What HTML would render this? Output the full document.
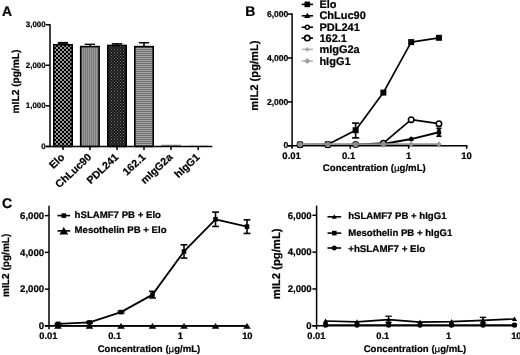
<!DOCTYPE html>
<html><head><meta charset="utf-8"><title>Figure</title>
<style>html,body{margin:0;padding:0;background:#fff;}svg{display:block;font-family:"Liberation Sans", Arial, sans-serif;}text{stroke:#000;stroke-width:0.22px;text-rendering:geometricPrecision;}</style>
</head><body>
<svg width="520" height="355" viewBox="0 0 520 355">
<rect width="520" height="355" fill="#fff"/>
<defs>
<pattern id="pChk" x="54" y="45" width="4" height="4" patternUnits="userSpaceOnUse"><rect width="4" height="4" fill="#000"/><rect x="0.15" y="0.15" width="1.7" height="1.7" fill="#d2d2d2"/><rect x="2.15" y="2.15" width="1.7" height="1.7" fill="#d2d2d2"/></pattern>
<pattern id="pV" x="81" y="0" width="2" height="4" patternUnits="userSpaceOnUse"><rect width="2" height="4" fill="#9a9a9a"/><rect x="0" y="0" width="1" height="4" fill="#7a7a7a"/></pattern>
<pattern id="pDot" x="108" y="46" width="3" height="3" patternUnits="userSpaceOnUse"><rect width="3" height="3" fill="#161616"/><rect x="0" y="0" width="1" height="1" fill="#777"/><rect x="1.5" y="1.5" width="1" height="1" fill="#777"/></pattern>
<pattern id="pH" x="0" y="47" width="4" height="2" patternUnits="userSpaceOnUse"><rect width="4" height="2" fill="#a8a8a8"/><rect x="0" y="0" width="4" height="1" fill="#6c6c6c"/></pattern>
</defs>
<text x="2.00" y="15.80" font-size="13.9" font-weight="bold" text-anchor="start" fill="#000" stroke-width="0">A</text>
<line x1="50.00" y1="23.95" x2="50.00" y2="147.15" stroke="#000" stroke-width="1.5" />
<line x1="45.80" y1="146.40" x2="212.30" y2="146.40" stroke="#000" stroke-width="1.5" />
<line x1="45.80" y1="146.40" x2="50.00" y2="146.40" stroke="#000" stroke-width="1.5" />
<text x="45.60" y="149.00" font-size="7.9" font-weight="bold" text-anchor="end" fill="#000" >0</text>
<line x1="45.80" y1="105.83" x2="50.00" y2="105.83" stroke="#000" stroke-width="1.5" />
<text x="45.60" y="108.43" font-size="7.9" font-weight="bold" text-anchor="end" fill="#000" >1,000</text>
<line x1="45.80" y1="65.27" x2="50.00" y2="65.27" stroke="#000" stroke-width="1.5" />
<text x="45.60" y="67.87" font-size="7.9" font-weight="bold" text-anchor="end" fill="#000" >2,000</text>
<line x1="45.80" y1="24.70" x2="50.00" y2="24.70" stroke="#000" stroke-width="1.5" />
<text x="45.60" y="27.30" font-size="7.9" font-weight="bold" text-anchor="end" fill="#000" >3,000</text>
<line x1="63.00" y1="146.40" x2="63.00" y2="150.00" stroke="#000" stroke-width="1.5" />
<text x="65.20" y="158.00" font-size="10.6" font-weight="bold" text-anchor="end" fill="#000" transform="rotate(-43 65.20 158.00)" >Elo</text>
<line x1="89.90" y1="146.40" x2="89.90" y2="150.00" stroke="#000" stroke-width="1.5" />
<text x="92.10" y="158.00" font-size="10.6" font-weight="bold" text-anchor="end" fill="#000" transform="rotate(-43 92.10 158.00)" >ChLuc90</text>
<line x1="117.00" y1="146.40" x2="117.00" y2="150.00" stroke="#000" stroke-width="1.5" />
<text x="119.20" y="158.00" font-size="10.6" font-weight="bold" text-anchor="end" fill="#000" transform="rotate(-43 119.20 158.00)" >PDL241</text>
<line x1="144.00" y1="146.40" x2="144.00" y2="150.00" stroke="#000" stroke-width="1.5" />
<text x="146.20" y="158.00" font-size="10.6" font-weight="bold" text-anchor="end" fill="#000" transform="rotate(-43 146.20 158.00)" >162.1</text>
<line x1="171.00" y1="146.40" x2="171.00" y2="150.00" stroke="#000" stroke-width="1.5" />
<text x="173.20" y="158.00" font-size="10.6" font-weight="bold" text-anchor="end" fill="#000" transform="rotate(-43 173.20 158.00)" >mIgG2a</text>
<line x1="198.20" y1="146.40" x2="198.20" y2="150.00" stroke="#000" stroke-width="1.5" />
<text x="200.40" y="158.00" font-size="10.6" font-weight="bold" text-anchor="end" fill="#000" transform="rotate(-43 200.40 158.00)" >hIgG1</text>
<line x1="63.00" y1="42.90" x2="63.00" y2="44.50" stroke="#000" stroke-width="1.6" />
<line x1="57.80" y1="42.90" x2="68.20" y2="42.90" stroke="#000" stroke-width="2.0" />
<rect x="53.80" y="44.80" width="18.4" height="101.60" fill="url(#pChk)" stroke="#000" stroke-width="1.6"/>
<line x1="89.90" y1="44.30" x2="89.90" y2="46.30" stroke="#000" stroke-width="1.6" />
<line x1="84.70" y1="44.30" x2="95.10" y2="44.30" stroke="#000" stroke-width="1.4" />
<rect x="80.70" y="46.60" width="18.4" height="99.80" fill="url(#pV)" stroke="#000" stroke-width="1.6"/>
<line x1="117.00" y1="43.90" x2="117.00" y2="45.15" stroke="#000" stroke-width="1.6" />
<line x1="111.80" y1="43.90" x2="122.20" y2="43.90" stroke="#000" stroke-width="1.6" />
<rect x="107.80" y="45.45" width="18.4" height="100.95" fill="url(#pDot)" stroke="#000" stroke-width="1.6"/>
<line x1="144.00" y1="42.75" x2="144.00" y2="46.30" stroke="#000" stroke-width="1.6" />
<line x1="138.80" y1="42.75" x2="149.20" y2="42.75" stroke="#000" stroke-width="1.45" />
<rect x="134.80" y="46.60" width="18.4" height="99.80" fill="url(#pH)" stroke="#000" stroke-width="1.6"/>
<line x1="161.20" y1="145.30" x2="181.00" y2="145.30" stroke="#333" stroke-width="0.8" />
<line x1="188.50" y1="145.40" x2="208.00" y2="145.40" stroke="#888" stroke-width="0.5" />
<text x="18.80" y="81.50" font-size="10.2" font-weight="bold" text-anchor="middle" fill="#000" transform="rotate(-90 18.80 81.50)" >mIL2 (pg/mL)</text>
<text x="245.30" y="15.80" font-size="14" font-weight="bold" text-anchor="start" fill="#000" stroke-width="0">B</text>
<line x1="292.10" y1="13.35" x2="292.10" y2="148.80" stroke="#000" stroke-width="1.5" />
<line x1="287.90" y1="145.80" x2="467.40" y2="145.80" stroke="#000" stroke-width="1.6" />
<line x1="287.90" y1="145.80" x2="292.10" y2="145.80" stroke="#000" stroke-width="1.5" />
<text x="288.40" y="148.40" font-size="8.6" font-weight="bold" text-anchor="end" fill="#000" >0</text>
<line x1="287.90" y1="101.90" x2="292.10" y2="101.90" stroke="#000" stroke-width="1.5" />
<text x="288.40" y="104.50" font-size="8.6" font-weight="bold" text-anchor="end" fill="#000" >2,000</text>
<line x1="287.90" y1="58.00" x2="292.10" y2="58.00" stroke="#000" stroke-width="1.5" />
<text x="288.40" y="60.60" font-size="8.6" font-weight="bold" text-anchor="end" fill="#000" >4,000</text>
<line x1="287.90" y1="14.10" x2="292.10" y2="14.10" stroke="#000" stroke-width="1.5" />
<text x="288.40" y="16.70" font-size="8.6" font-weight="bold" text-anchor="end" fill="#000" >6,000</text>
<text x="291.60" y="159.00" font-size="9.5" font-weight="bold" text-anchor="middle" fill="#000" >0.01</text>
<line x1="350.30" y1="145.80" x2="350.30" y2="148.80" stroke="#000" stroke-width="1.5" />
<text x="348.60" y="159.00" font-size="9.5" font-weight="bold" text-anchor="middle" fill="#000" >0.1</text>
<line x1="408.60" y1="145.80" x2="408.60" y2="148.80" stroke="#000" stroke-width="1.5" />
<text x="408.60" y="159.00" font-size="9.5" font-weight="bold" text-anchor="middle" fill="#000" >1</text>
<line x1="466.70" y1="145.80" x2="466.70" y2="148.80" stroke="#000" stroke-width="1.5" />
<text x="466.60" y="159.00" font-size="9.5" font-weight="bold" text-anchor="middle" fill="#000" >10</text>
<text x="374.30" y="171.20" font-size="9.65" font-weight="bold" text-anchor="middle" fill="#000" >Concentration (<tspan font-family="DejaVu Sans" font-weight="normal" font-size="8.8">μ</tspan>g/mL)</text>
<text x="257.80" y="75.50" font-size="11.2" font-weight="bold" text-anchor="middle" fill="#000" transform="rotate(-90 257.80 75.50)" >mIL2 (pg/mL)</text>
<polyline points="300.06,144.60 327.83,144.40 355.64,130.20 383.37,92.60 411.16,42.10 438.93,37.80" fill="none" stroke="#000" stroke-width="1.7" stroke-linejoin="round"/>
<line x1="355.64" y1="123.10" x2="355.64" y2="137.90" stroke="#000" stroke-width="1.6" />
<line x1="352.04" y1="123.10" x2="359.24" y2="123.10" stroke="#000" stroke-width="1.6" />
<line x1="352.04" y1="137.90" x2="359.24" y2="137.90" stroke="#000" stroke-width="1.6" />
<rect x="297.06" y="141.60" width="6.00" height="6.00" fill="#000"/>
<rect x="324.83" y="141.40" width="6.00" height="6.00" fill="#000"/>
<rect x="352.64" y="127.20" width="6.00" height="6.00" fill="#000"/>
<rect x="380.37" y="89.60" width="6.00" height="6.00" fill="#000"/>
<rect x="408.16" y="39.10" width="6.00" height="6.00" fill="#000"/>
<rect x="435.93" y="34.80" width="6.00" height="6.00" fill="#000"/>
<polyline points="300.06,145.00 327.83,145.00 355.64,144.80 383.37,144.00 411.16,139.10 438.93,132.20" fill="none" stroke="#000" stroke-width="2.0" stroke-linejoin="round"/>
<line x1="438.93" y1="128.30" x2="438.93" y2="136.30" stroke="#000" stroke-width="1.6" />
<line x1="436.33" y1="128.30" x2="441.53" y2="128.30" stroke="#000" stroke-width="1.6" />
<line x1="436.33" y1="136.30" x2="441.53" y2="136.30" stroke="#000" stroke-width="1.6" />
<line x1="438.93" y1="128.30" x2="438.93" y2="136.30" stroke="#000" stroke-width="3.2" />
<polygon points="300.06,142.10 297.46,146.78 302.66,146.78" fill="#000"/>
<polygon points="327.83,142.10 325.23,146.78 330.43,146.78" fill="#000"/>
<polygon points="355.64,141.90 353.04,146.58 358.24,146.58" fill="#000"/>
<polygon points="383.37,141.10 380.77,145.78 385.97,145.78" fill="#000"/>
<polygon points="411.16,136.20 408.56,140.88 413.76,140.88" fill="#000"/>
<polygon points="438.93,129.30 436.33,133.98 441.53,133.98" fill="#000"/>
<circle cx="300.06" cy="145.00" r="1.90" fill="#000" stroke="#000" stroke-width="1"/>
<circle cx="327.83" cy="145.00" r="1.90" fill="#000" stroke="#000" stroke-width="1"/>
<circle cx="355.64" cy="144.80" r="1.90" fill="#000" stroke="#000" stroke-width="1"/>
<circle cx="383.37" cy="144.00" r="1.90" fill="#000" stroke="#000" stroke-width="1"/>
<circle cx="411.16" cy="139.10" r="1.90" fill="#000" stroke="#000" stroke-width="1"/>
<circle cx="438.93" cy="132.20" r="1.90" fill="#000" stroke="#000" stroke-width="1"/>
<polyline points="300.06,144.80 327.83,144.80 355.64,144.60 383.37,143.20 411.16,119.70 438.93,123.70" fill="none" stroke="#000" stroke-width="1.7" stroke-linejoin="round"/>
<circle cx="300.06" cy="144.80" r="2.70" fill="#fff" stroke="#000" stroke-width="1.6"/>
<circle cx="327.83" cy="144.80" r="2.70" fill="#fff" stroke="#000" stroke-width="1.6"/>
<circle cx="355.64" cy="144.60" r="2.70" fill="#fff" stroke="#000" stroke-width="1.6"/>
<circle cx="383.37" cy="143.20" r="2.70" fill="#fff" stroke="#000" stroke-width="1.6"/>
<circle cx="411.16" cy="119.70" r="2.70" fill="#fff" stroke="#000" stroke-width="1.6"/>
<circle cx="438.93" cy="123.70" r="2.70" fill="#fff" stroke="#000" stroke-width="1.6"/>
<polyline points="300.06,144.20 327.83,144.20 355.64,144.20 383.37,144.20 411.16,144.20 438.93,144.20" fill="none" stroke="#949494" stroke-width="1.7" stroke-linejoin="round"/>
<circle cx="300.06" cy="144.40" r="2.50" fill="#8c8c8c" stroke="#8c8c8c" stroke-width="0.6"/>
<circle cx="327.83" cy="144.40" r="2.50" fill="#8c8c8c" stroke="#8c8c8c" stroke-width="0.6"/>
<circle cx="355.64" cy="144.40" r="2.50" fill="#8c8c8c" stroke="#8c8c8c" stroke-width="0.6"/>
<circle cx="383.37" cy="144.40" r="2.50" fill="#8c8c8c" stroke="#8c8c8c" stroke-width="0.6"/>
<polygon points="411.16,141.30 408.26,144.20 411.16,147.10 414.06,144.20" fill="#999"/>
<polygon points="438.93,141.30 436.03,144.20 438.93,147.10 441.83,144.20" fill="#999"/>
<line x1="301.70" y1="4.40" x2="313.00" y2="4.40" stroke="#000" stroke-width="1.6" />
<text x="319.40" y="8.00" font-size="11" font-weight="bold" text-anchor="start" fill="#000" >Elo</text>
<line x1="301.70" y1="15.80" x2="313.00" y2="15.80" stroke="#000" stroke-width="1.6" />
<text x="319.40" y="19.10" font-size="11" font-weight="bold" text-anchor="start" fill="#000" >ChLuc90</text>
<line x1="301.70" y1="27.20" x2="313.00" y2="27.20" stroke="#000" stroke-width="1.6" />
<text x="319.40" y="30.50" font-size="11" font-weight="bold" text-anchor="start" fill="#000" >PDL241</text>
<line x1="301.70" y1="38.10" x2="313.00" y2="38.10" stroke="#000" stroke-width="1.6" />
<text x="319.40" y="41.70" font-size="11" font-weight="bold" text-anchor="start" fill="#000" >162.1</text>
<line x1="301.70" y1="49.40" x2="313.00" y2="49.40" stroke="#b4b4b4" stroke-width="1.6" />
<text x="319.40" y="53.10" font-size="11" font-weight="bold" text-anchor="start" fill="#000" >mIgG2a</text>
<line x1="301.70" y1="61.10" x2="313.00" y2="61.10" stroke="#b4b4b4" stroke-width="1.6" />
<text x="319.40" y="64.70" font-size="11" font-weight="bold" text-anchor="start" fill="#000" >hIgG1</text>
<rect x="304.50" y="1.60" width="5.60" height="5.60" fill="#000"/>
<polygon points="307.30,12.80 304.10,18.02 310.50,18.02" fill="#000"/>
<circle cx="307.30" cy="27.20" r="2.00" fill="#fff" stroke="#000" stroke-width="1.5"/>
<circle cx="307.30" cy="38.10" r="2.70" fill="#fff" stroke="#000" stroke-width="1.6"/>
<polygon points="307.30,47.00 304.90,49.40 307.30,51.80 309.70,49.40" fill="#a8a8a8"/>
<polygon points="307.30,58.10 304.30,61.10 307.30,64.10 310.30,61.10" fill="#a0a0a0"/>
<text x="2.00" y="207.70" font-size="14" font-weight="bold" text-anchor="start" fill="#000" stroke-width="0">C</text>
<line x1="49.00" y1="205.80" x2="49.00" y2="329.30" stroke="#000" stroke-width="1.5" />
<line x1="44.80" y1="325.90" x2="248.00" y2="325.90" stroke="#000" stroke-width="1.6" />
<line x1="44.80" y1="325.90" x2="49.00" y2="325.90" stroke="#000" stroke-width="1.5" />
<text x="44.10" y="329.20" font-size="9.6" font-weight="bold" text-anchor="end" fill="#000" >0</text>
<line x1="44.80" y1="289.13" x2="49.00" y2="289.13" stroke="#000" stroke-width="1.5" />
<text x="44.10" y="292.43" font-size="9.6" font-weight="bold" text-anchor="end" fill="#000" >2,000</text>
<line x1="44.80" y1="252.37" x2="49.00" y2="252.37" stroke="#000" stroke-width="1.5" />
<text x="44.10" y="255.67" font-size="9.6" font-weight="bold" text-anchor="end" fill="#000" >4,000</text>
<line x1="44.80" y1="215.60" x2="49.00" y2="215.60" stroke="#000" stroke-width="1.5" />
<text x="44.10" y="218.90" font-size="9.6" font-weight="bold" text-anchor="end" fill="#000" >6,000</text>
<text x="48.30" y="338.60" font-size="9.3" font-weight="bold" text-anchor="middle" fill="#000" >0.01</text>
<text x="114.60" y="338.60" font-size="9.3" font-weight="bold" text-anchor="middle" fill="#000" >0.1</text>
<text x="180.30" y="338.60" font-size="9.3" font-weight="bold" text-anchor="middle" fill="#000" >1</text>
<text x="247.30" y="338.60" font-size="9.3" font-weight="bold" text-anchor="middle" fill="#000" >10</text>
<text x="149.00" y="352.30" font-size="9.6" font-weight="bold" text-anchor="middle" fill="#000" >Concentration (<tspan font-family="DejaVu Sans" font-weight="normal" font-size="8.8">μ</tspan>g/mL)</text>
<text x="8.90" y="265.30" font-size="10.1" font-weight="bold" text-anchor="middle" fill="#000" transform="rotate(-90 8.90 265.30)" >mIL2 (pg/mL)</text>
<polyline points="58.02,323.88 89.51,322.41 121.05,312.11 152.50,294.65 184.02,251.45 215.51,219.28 247.00,226.63" fill="none" stroke="#000" stroke-width="1.8" stroke-linejoin="round"/>
<line x1="58.02" y1="323.33" x2="58.02" y2="324.43" stroke="#000" stroke-width="1.6" />
<line x1="54.62" y1="323.33" x2="61.42" y2="323.33" stroke="#000" stroke-width="1.6" />
<line x1="54.62" y1="324.43" x2="61.42" y2="324.43" stroke="#000" stroke-width="1.6" />
<rect x="55.72" y="321.58" width="4.60" height="4.60" fill="#000"/>
<line x1="89.51" y1="321.67" x2="89.51" y2="323.14" stroke="#000" stroke-width="1.6" />
<line x1="86.11" y1="321.67" x2="92.91" y2="321.67" stroke="#000" stroke-width="1.6" />
<line x1="86.11" y1="323.14" x2="92.91" y2="323.14" stroke="#000" stroke-width="1.6" />
<rect x="87.21" y="320.11" width="4.60" height="4.60" fill="#000"/>
<line x1="121.05" y1="311.19" x2="121.05" y2="313.03" stroke="#000" stroke-width="1.6" />
<line x1="117.65" y1="311.19" x2="124.45" y2="311.19" stroke="#000" stroke-width="1.6" />
<line x1="117.65" y1="313.03" x2="124.45" y2="313.03" stroke="#000" stroke-width="1.6" />
<rect x="118.75" y="309.81" width="4.60" height="4.60" fill="#000"/>
<line x1="152.50" y1="291.34" x2="152.50" y2="297.96" stroke="#000" stroke-width="1.6" />
<line x1="149.10" y1="291.34" x2="155.90" y2="291.34" stroke="#000" stroke-width="1.6" />
<line x1="149.10" y1="297.96" x2="155.90" y2="297.96" stroke="#000" stroke-width="1.6" />
<rect x="150.20" y="292.35" width="4.60" height="4.60" fill="#000"/>
<line x1="184.02" y1="244.83" x2="184.02" y2="258.07" stroke="#000" stroke-width="1.6" />
<line x1="180.62" y1="244.83" x2="187.42" y2="244.83" stroke="#000" stroke-width="1.6" />
<line x1="180.62" y1="258.07" x2="187.42" y2="258.07" stroke="#000" stroke-width="1.6" />
<rect x="181.72" y="249.15" width="4.60" height="4.60" fill="#000"/>
<line x1="215.51" y1="212.11" x2="215.51" y2="226.45" stroke="#000" stroke-width="1.6" />
<line x1="212.11" y1="212.11" x2="218.91" y2="212.11" stroke="#000" stroke-width="1.6" />
<line x1="212.11" y1="226.45" x2="218.91" y2="226.45" stroke="#000" stroke-width="1.6" />
<rect x="213.21" y="216.98" width="4.60" height="4.60" fill="#000"/>
<line x1="247.00" y1="219.83" x2="247.00" y2="233.43" stroke="#000" stroke-width="1.6" />
<line x1="243.60" y1="219.83" x2="250.40" y2="219.83" stroke="#000" stroke-width="1.6" />
<line x1="243.60" y1="233.43" x2="250.40" y2="233.43" stroke="#000" stroke-width="1.6" />
<rect x="244.70" y="224.33" width="4.60" height="4.60" fill="#000"/>
<polyline points="58.02,325.90 89.51,325.90 121.05,325.90 152.50,325.90 184.02,325.90 215.51,325.90 247.00,325.90" fill="none" stroke="#000" stroke-width="1.4" stroke-linejoin="round"/>
<polygon points="58.02,323.10 54.22,328.86 61.82,328.86" fill="#000"/>
<polygon points="89.51,323.10 85.71,328.86 93.31,328.86" fill="#000"/>
<polygon points="121.05,323.10 117.25,328.86 124.85,328.86" fill="#000"/>
<polygon points="152.50,323.10 148.70,328.86 156.30,328.86" fill="#000"/>
<polygon points="184.02,323.10 180.22,328.86 187.82,328.86" fill="#000"/>
<polygon points="215.51,323.10 211.71,328.86 219.31,328.86" fill="#000"/>
<polygon points="247.00,323.10 243.20,328.86 250.80,328.86" fill="#000"/>
<line x1="57.50" y1="215.60" x2="70.20" y2="215.60" stroke="#000" stroke-width="1.6" />
<rect x="61.50" y="213.30" width="4.60" height="4.60" fill="#000"/>
<text x="74.60" y="218.10" font-size="9.65" font-weight="bold" text-anchor="start" fill="#000" >hSLAMF7 PB + Elo</text>
<line x1="57.50" y1="230.90" x2="70.20" y2="230.90" stroke="#000" stroke-width="1.6" />
<polygon points="63.80,227.10 59.40,234.48 68.20,234.48" fill="#000"/>
<text x="74.60" y="233.20" font-size="9.6" font-weight="bold" text-anchor="start" fill="#000" >Mesothelin PB + Elo</text>
<line x1="316.60" y1="205.60" x2="316.60" y2="329.20" stroke="#000" stroke-width="1.5" />
<line x1="312.40" y1="325.80" x2="516.50" y2="325.80" stroke="#000" stroke-width="1.6" />
<line x1="312.40" y1="325.80" x2="316.60" y2="325.80" stroke="#000" stroke-width="1.5" />
<text x="311.70" y="329.10" font-size="9.6" font-weight="bold" text-anchor="end" fill="#000" >0</text>
<line x1="312.40" y1="288.97" x2="316.60" y2="288.97" stroke="#000" stroke-width="1.5" />
<text x="311.70" y="292.27" font-size="9.6" font-weight="bold" text-anchor="end" fill="#000" >2,000</text>
<line x1="312.40" y1="252.13" x2="316.60" y2="252.13" stroke="#000" stroke-width="1.5" />
<text x="311.70" y="255.43" font-size="9.6" font-weight="bold" text-anchor="end" fill="#000" >4,000</text>
<line x1="312.40" y1="215.30" x2="316.60" y2="215.30" stroke="#000" stroke-width="1.5" />
<text x="311.70" y="218.60" font-size="9.6" font-weight="bold" text-anchor="end" fill="#000" >6,000</text>
<text x="316.40" y="339.00" font-size="9.3" font-weight="bold" text-anchor="middle" fill="#000" >0.01</text>
<text x="382.70" y="339.00" font-size="9.3" font-weight="bold" text-anchor="middle" fill="#000" >0.1</text>
<text x="448.50" y="339.00" font-size="9.3" font-weight="bold" text-anchor="middle" fill="#000" >1</text>
<text x="516.30" y="339.00" font-size="9.3" font-weight="bold" text-anchor="middle" fill="#000" >10</text>
<text x="415.00" y="351.60" font-size="9.6" font-weight="bold" text-anchor="middle" fill="#000" >Concentration (<tspan font-family="DejaVu Sans" font-weight="normal" font-size="8.8">μ</tspan>g/mL)</text>
<text x="279.70" y="263.90" font-size="11.3" font-weight="bold" text-anchor="middle" fill="#000" transform="rotate(-90 279.70 263.90)" >mIL2 (pg/mL)</text>
<polyline points="325.52,321.01 357.01,321.84 388.55,319.54 420.00,322.12 451.52,321.56 483.01,320.28 514.50,318.99" fill="none" stroke="#000" stroke-width="1.7" stroke-linejoin="round"/>
<line x1="388.55" y1="316.22" x2="388.55" y2="322.49" stroke="#000" stroke-width="1.3" />
<line x1="385.35" y1="316.22" x2="391.75" y2="316.22" stroke="#000" stroke-width="1.3" />
<line x1="385.35" y1="322.49" x2="391.75" y2="322.49" stroke="#000" stroke-width="1.3" />
<line x1="483.01" y1="317.33" x2="483.01" y2="322.85" stroke="#000" stroke-width="1.3" />
<line x1="479.81" y1="317.33" x2="486.21" y2="317.33" stroke="#000" stroke-width="1.3" />
<line x1="479.81" y1="322.85" x2="486.21" y2="322.85" stroke="#000" stroke-width="1.3" />
<polygon points="325.52,318.41 322.92,323.09 328.12,323.09" fill="#000"/>
<polygon points="357.01,319.24 354.41,323.92 359.61,323.92" fill="#000"/>
<polygon points="388.55,316.94 385.95,321.62 391.15,321.62" fill="#000"/>
<polygon points="420.00,319.52 417.40,324.20 422.60,324.20" fill="#000"/>
<polygon points="451.52,318.96 448.92,323.64 454.12,323.64" fill="#000"/>
<polygon points="483.01,317.68 480.41,322.36 485.61,322.36" fill="#000"/>
<polygon points="514.50,316.39 511.90,321.07 517.10,321.07" fill="#000"/>
<polyline points="325.52,325.06 357.01,325.06 388.55,325.06 420.00,325.06 451.52,325.06 483.01,325.06 514.50,325.06" fill="none" stroke="#000" stroke-width="1.5" stroke-linejoin="round"/>
<circle cx="325.52" cy="325.06" r="2.40" fill="#000" stroke="#000" stroke-width="0.5"/>
<rect x="323.42" y="322.96" width="4.20" height="4.20" fill="#000"/>
<circle cx="357.01" cy="325.06" r="2.40" fill="#000" stroke="#000" stroke-width="0.5"/>
<rect x="354.91" y="322.96" width="4.20" height="4.20" fill="#000"/>
<circle cx="388.55" cy="325.06" r="2.40" fill="#000" stroke="#000" stroke-width="0.5"/>
<rect x="386.45" y="322.96" width="4.20" height="4.20" fill="#000"/>
<circle cx="420.00" cy="325.06" r="2.40" fill="#000" stroke="#000" stroke-width="0.5"/>
<rect x="417.90" y="322.96" width="4.20" height="4.20" fill="#000"/>
<circle cx="451.52" cy="325.06" r="2.40" fill="#000" stroke="#000" stroke-width="0.5"/>
<rect x="449.42" y="322.96" width="4.20" height="4.20" fill="#000"/>
<circle cx="483.01" cy="325.06" r="2.40" fill="#000" stroke="#000" stroke-width="0.5"/>
<rect x="480.91" y="322.96" width="4.20" height="4.20" fill="#000"/>
<circle cx="514.50" cy="325.06" r="2.40" fill="#000" stroke="#000" stroke-width="0.5"/>
<rect x="512.40" y="322.96" width="4.20" height="4.20" fill="#000"/>
<line x1="327.50" y1="216.80" x2="341.20" y2="216.80" stroke="#000" stroke-width="1.6" />
<text x="348.20" y="219.40" font-size="9.6" font-weight="bold" text-anchor="start" fill="#000" >hSLAMF7 PB + hIgG1</text>
<line x1="327.50" y1="233.10" x2="341.20" y2="233.10" stroke="#000" stroke-width="1.6" />
<text x="348.20" y="236.30" font-size="9.6" font-weight="bold" text-anchor="start" fill="#000" >Mesothelin PB + hIgG1</text>
<line x1="327.50" y1="248.00" x2="341.20" y2="248.00" stroke="#000" stroke-width="1.6" />
<text x="348.20" y="252.00" font-size="9.78" font-weight="bold" text-anchor="start" fill="#000" >+hSLAMF7 + Elo</text>
<polygon points="334.30,214.30 331.80,218.80 336.80,218.80" fill="#000"/>
<rect x="332.00" y="230.80" width="4.60" height="4.60" fill="#000"/>
<circle cx="334.30" cy="248.00" r="2.20" fill="#000" stroke="#000" stroke-width="0.6"/>
</svg>
</body></html>
